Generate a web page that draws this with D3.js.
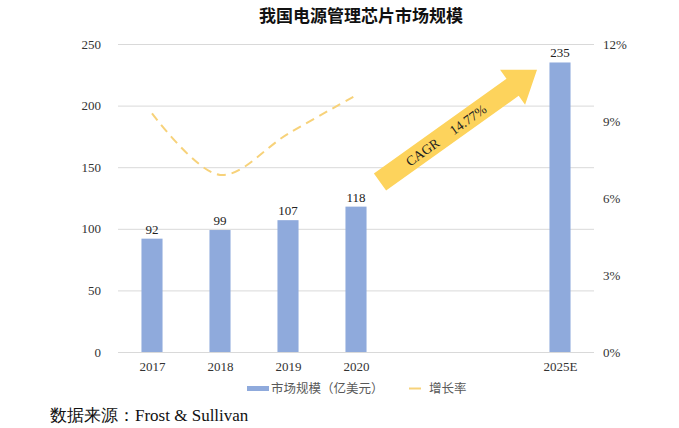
<!DOCTYPE html>
<html><head><meta charset="utf-8">
<script src="https://cdn.jsdelivr.net/npm/d3@7"></script>
<style>body{margin:0;background:#fff}svg{display:block}</style>
</head><body><svg id="c" width="679" height="428"></svg>
<script>
const categories = ["2017","2018","2019","2020","","","2025E"];
const slotKeys = ["2017","2018","2019","2020","gap1","gap2","2025E"];
const marketSize = [92,99,107,118,null,null,235];
const growthRate = [9.3,6.9,8.5,10.0,null,null,null];
const leftTicks = [0,50,100,150,200,250];
const rightTicks = [0,3,6,9,12];
const title = "我国电源管理芯片市场规模";
const legendLabels = ["市场规模（亿美元）","增长率"];
const sourceText = "数据来源：Frost & Sullivan";
const cagrText = ["CAGR","14.77%"];

const svg = d3.select("#c");
const serif = "'Liberation Serif','Times New Roman',serif";
const cjk = "'Noto Sans CJK SC','Noto Sans',sans-serif";
const L=118,R=594,T=44,B=352;

const x = d3.scalePoint().domain(slotKeys).range([L,R]).padding(0.5);
const step = x.step();
const yL = d3.scaleLinear().domain([0,250]).range([B,T]);
const yR = d3.scaleLinear().domain([0,12]).range([B,T]);

// title
svg.append("text").attr("x",361).attr("y",22).attr("text-anchor","middle")
  .attr("font-family",cjk).attr("font-weight","bold").attr("font-size",17).attr("fill","#111").text(title);

// grid
svg.append("g").selectAll("line").data(leftTicks).join("line")
  .attr("x1",L).attr("x2",R).attr("y1",d=>yL(d)+0.5).attr("y2",d=>yL(d)+0.5)
  .attr("stroke","#d9d9d9").attr("stroke-width",1);

// left axis
const la = svg.append("g").attr("transform",`translate(${L},0)`)
  .call(d3.axisLeft(yL).tickValues(leftTicks).tickSize(0).tickPadding(17));
la.select(".domain").remove();
la.selectAll("text").attr("font-family",serif).attr("font-size",13).attr("fill","#333");

// right axis
const ra = svg.append("g").attr("transform",`translate(${R},0)`)
  .call(d3.axisRight(yR).tickValues(rightTicks).tickSize(0).tickPadding(9).tickFormat(d=>d+"%"));
ra.select(".domain").remove();
ra.selectAll("text").attr("font-family",serif).attr("font-size",13).attr("fill","#333");

// bottom axis labels
const ba = svg.append("g").attr("transform",`translate(0,${B})`)
  .call(d3.axisBottom(x).tickSize(0).tickPadding(10).tickFormat((d,i)=>categories[i]));
ba.select(".domain").remove();
ba.selectAll("text").attr("font-family",serif).attr("font-size",13).attr("fill","#333");

// bars
const bw = step*0.31;
const barData = slotKeys.map((k,i)=>({k,v:marketSize[i]})).filter(d=>d.v!=null);
svg.append("g").selectAll("rect").data(barData).join("rect")
  .attr("x",d=>x(d.k)-bw/2).attr("width",bw)
  .attr("y",d=>yL(d.v)).attr("height",d=>B-yL(d.v)).attr("fill","#8faadc");
svg.append("g").selectAll("text").data(barData).join("text")
  .attr("x",d=>x(d.k)).attr("y",d=>yL(d.v)-5).attr("text-anchor","middle")
  .attr("font-family",serif).attr("font-size",13).attr("fill","#222").text(d=>d.v);

// growth line
const lineData = slotKeys.map((k,i)=>({k,v:growthRate[i]})).filter(d=>d.v!=null);
svg.append("path").datum(lineData)
  .attr("d",d3.line().x(d=>x(d.k)).y(d=>yR(d.v)).curve(d3.curveCatmullRom.alpha(0.5)))
  .attr("fill","none").attr("stroke","#f7d27a").attr("stroke-width",2).attr("stroke-dasharray","9,6");

// CAGR arrow (anchored to scales)
const x0 = x("2020")+24, y0 = yL(138);
const x1 = x("2025E")-23, y1 = yL(229);
const len = Math.hypot(x1-x0,y1-y0), ang = Math.atan2(y1-y0,x1-x0)*180/Math.PI;
const hw=10.5, hh=21.5, hl=30;
const ag = svg.append("g").attr("transform",`translate(${x0},${y0}) rotate(${ang})`);
ag.append("polygon").attr("points",[[0,-hw],[len-hl,-hw],[len-hl,-hh],[len,0],[len-hl,hh],[len-hl,hw],[0,hw]].map(p=>p.join(",")).join(" "))
  .attr("fill","#fdd35c");
ag.append("text").attr("x",52).attr("y",5).attr("text-anchor","middle")
  .attr("font-family",serif).attr("font-size",13.5).attr("fill","#222").text(cagrText[0]);
ag.append("text").attr("x",108).attr("y",5).attr("text-anchor","middle")
  .attr("font-family",serif).attr("font-size",13.5).attr("fill","#222").text(cagrText[1]);

// legend
const lg = svg.append("g");
lg.append("rect").attr("x",247).attr("y",386).attr("width",22).attr("height",5).attr("fill","#8faadc");
lg.append("text").attr("x",271).attr("y",393).attr("font-family",cjk).attr("font-size",12.5).attr("fill","#595959").text(legendLabels[0]);
lg.append("line").attr("x1",409).attr("x2",421).attr("y1",388.5).attr("y2",388.5).attr("stroke","#f7d27a").attr("stroke-width",2);
lg.append("text").attr("x",429).attr("y",393).attr("font-family",cjk).attr("font-size",12.5).attr("fill","#595959").text(legendLabels[1]);

// source
svg.append("text").attr("x",50).attr("y",421).attr("font-family",serif).attr("font-size",17).attr("fill","#111")
  .text(sourceText);
</script></body></html>
